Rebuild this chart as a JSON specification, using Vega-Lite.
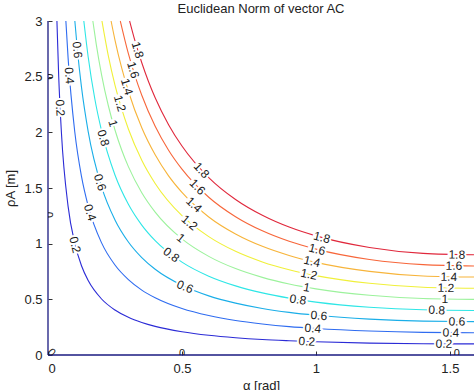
{
  "$schema": "https://vega.github.io/schema/vega-lite/v6.json",
  "width": 426,
  "height": 334,
  "autosize": {"type": "none"},
  "padding": {"left": 48, "top": 21, "right": 0, "bottom": 35},
  "background": "white",
  "config": {
    "view": {"stroke": null},
    "font": "Liberation Sans",
    "axis": {"labelFont": "Liberation Sans", "labelFontSize": 13, "labelColor": "#222", "titleFont": "Liberation Sans", "titleFontSize": 13, "titleFontWeight": "normal", "titleColor": "#222", "grid": false, "domain": false, "tickColor": "#333", "tickSize": -4, "labelPadding": 10}
  },
  "title": {"text": "Euclidean Norm of vector AC", "fontSize": 13, "fontWeight": "normal", "color": "#222", "font": "Liberation Sans", "offset": -1},
  "datasets": {
    "zero": [
      {"a": 0, "r": 0, "seg": "L"}, {"a": 0, "r": 3, "seg": "L"},
      {"a": 0, "r": 0, "seg": "B"}, {"a": 1.59, "r": 0, "seg": "B"}
    ],
    "lines": [
      {"c": "0.2", "a": 0.0333, "r": 3}, {"c": "0.2", "a": 0.04, "r": 2.5}, {"c": "0.2", "a": 0.05, "r": 2.001}, {"c": "0.2", "a": 0.075, "r": 1.335}, {"c": "0.2", "a": 0.1, "r": 1.002}, {"c": "0.2", "a": 0.125, "r": 0.802}, {"c": "0.2", "a": 0.15, "r": 0.669}, {"c": "0.2", "a": 0.2, "r": 0.503}, {"c": "0.2", "a": 0.25, "r": 0.404}, {"c": "0.2", "a": 0.3, "r": 0.338}, {"c": "0.2", "a": 0.35, "r": 0.292}, {"c": "0.2", "a": 0.4, "r": 0.257}, {"c": "0.2", "a": 0.5, "r": 0.209}, {"c": "0.2", "a": 0.6, "r": 0.177}, {"c": "0.2", "a": 0.7, "r": 0.155}, {"c": "0.2", "a": 0.8, "r": 0.139}, {"c": "0.2", "a": 0.9, "r": 0.128}, {"c": "0.2", "a": 1.0, "r": 0.119}, {"c": "0.2", "a": 1.2, "r": 0.107}, {"c": "0.2", "a": 1.4, "r": 0.101}, {"c": "0.2", "a": 1.59, "r": 0.1},
      {"c": "0.4", "a": 0.0667, "r": 3}, {"c": "0.4", "a": 0.075, "r": 2.669}, {"c": "0.4", "a": 0.1, "r": 2.003}, {"c": "0.4", "a": 0.125, "r": 1.604}, {"c": "0.4", "a": 0.15, "r": 1.338}, {"c": "0.4", "a": 0.2, "r": 1.007}, {"c": "0.4", "a": 0.25, "r": 0.808}, {"c": "0.4", "a": 0.3, "r": 0.677}, {"c": "0.4", "a": 0.35, "r": 0.583}, {"c": "0.4", "a": 0.4, "r": 0.514}, {"c": "0.4", "a": 0.5, "r": 0.417}, {"c": "0.4", "a": 0.6, "r": 0.354}, {"c": "0.4", "a": 0.7, "r": 0.31}, {"c": "0.4", "a": 0.8, "r": 0.279}, {"c": "0.4", "a": 0.9, "r": 0.255}, {"c": "0.4", "a": 1.0, "r": 0.238}, {"c": "0.4", "a": 1.2, "r": 0.215}, {"c": "0.4", "a": 1.4, "r": 0.203}, {"c": "0.4", "a": 1.59, "r": 0.2},
      {"c": "0.6", "a": 0.1002, "r": 3}, {"c": "0.6", "a": 0.11, "r": 2.733}, {"c": "0.6", "a": 0.125, "r": 2.406}, {"c": "0.6", "a": 0.15, "r": 2.007}, {"c": "0.6", "a": 0.2, "r": 1.51}, {"c": "0.6", "a": 0.25, "r": 1.213}, {"c": "0.6", "a": 0.3, "r": 1.015}, {"c": "0.6", "a": 0.35, "r": 0.875}, {"c": "0.6", "a": 0.4, "r": 0.77}, {"c": "0.6", "a": 0.5, "r": 0.626}, {"c": "0.6", "a": 0.6, "r": 0.531}, {"c": "0.6", "a": 0.7, "r": 0.466}, {"c": "0.6", "a": 0.8, "r": 0.418}, {"c": "0.6", "a": 0.9, "r": 0.383}, {"c": "0.6", "a": 1.0, "r": 0.357}, {"c": "0.6", "a": 1.2, "r": 0.322}, {"c": "0.6", "a": 1.4, "r": 0.304}, {"c": "0.6", "a": 1.59, "r": 0.3},
      {"c": "0.8", "a": 0.1337, "r": 3}, {"c": "0.8", "a": 0.15, "r": 2.677}, {"c": "0.8", "a": 0.175, "r": 2.297}, {"c": "0.8", "a": 0.2, "r": 2.013}, {"c": "0.8", "a": 0.25, "r": 1.617}, {"c": "0.8", "a": 0.3, "r": 1.354}, {"c": "0.8", "a": 0.35, "r": 1.167}, {"c": "0.8", "a": 0.4, "r": 1.027}, {"c": "0.8", "a": 0.5, "r": 0.834}, {"c": "0.8", "a": 0.6, "r": 0.708}, {"c": "0.8", "a": 0.7, "r": 0.621}, {"c": "0.8", "a": 0.8, "r": 0.558}, {"c": "0.8", "a": 0.9, "r": 0.511}, {"c": "0.8", "a": 1.0, "r": 0.475}, {"c": "0.8", "a": 1.2, "r": 0.429}, {"c": "0.8", "a": 1.4, "r": 0.406}, {"c": "0.8", "a": 1.59, "r": 0.4},
      {"c": "1", "a": 0.1674, "r": 3}, {"c": "1", "a": 0.18, "r": 2.793}, {"c": "1", "a": 0.2, "r": 2.517}, {"c": "1", "a": 0.225, "r": 2.241}, {"c": "1", "a": 0.25, "r": 2.021}, {"c": "1", "a": 0.275, "r": 1.841}, {"c": "1", "a": 0.3, "r": 1.692}, {"c": "1", "a": 0.35, "r": 1.458}, {"c": "1", "a": 0.4, "r": 1.284}, {"c": "1", "a": 0.5, "r": 1.043}, {"c": "1", "a": 0.6, "r": 0.886}, {"c": "1", "a": 0.7, "r": 0.776}, {"c": "1", "a": 0.8, "r": 0.697}, {"c": "1", "a": 0.9, "r": 0.638}, {"c": "1", "a": 1.0, "r": 0.594}, {"c": "1", "a": 1.2, "r": 0.536}, {"c": "1", "a": 1.4, "r": 0.507}, {"c": "1", "a": 1.59, "r": 0.5},
      {"c": "1.2", "a": 0.2014, "r": 3}, {"c": "1.2", "a": 0.225, "r": 2.689}, {"c": "1.2", "a": 0.25, "r": 2.425}, {"c": "1.2", "a": 0.275, "r": 2.21}, {"c": "1.2", "a": 0.3, "r": 2.03}, {"c": "1.2", "a": 0.35, "r": 1.75}, {"c": "1.2", "a": 0.4, "r": 1.541}, {"c": "1.2", "a": 0.5, "r": 1.251}, {"c": "1.2", "a": 0.6, "r": 1.063}, {"c": "1.2", "a": 0.7, "r": 0.931}, {"c": "1.2", "a": 0.8, "r": 0.836}, {"c": "1.2", "a": 0.9, "r": 0.766}, {"c": "1.2", "a": 1.0, "r": 0.713}, {"c": "1.2", "a": 1.2, "r": 0.644}, {"c": "1.2", "a": 1.4, "r": 0.609}, {"c": "1.2", "a": 1.59, "r": 0.6},
      {"c": "1.4", "a": 0.2355, "r": 3}, {"c": "1.4", "a": 0.25, "r": 2.829}, {"c": "1.4", "a": 0.275, "r": 2.578}, {"c": "1.4", "a": 0.3, "r": 2.369}, {"c": "1.4", "a": 0.35, "r": 2.041}, {"c": "1.4", "a": 0.4, "r": 1.798}, {"c": "1.4", "a": 0.45, "r": 1.609}, {"c": "1.4", "a": 0.5, "r": 1.46}, {"c": "1.4", "a": 0.6, "r": 1.24}, {"c": "1.4", "a": 0.7, "r": 1.087}, {"c": "1.4", "a": 0.8, "r": 0.976}, {"c": "1.4", "a": 0.9, "r": 0.894}, {"c": "1.4", "a": 1.0, "r": 0.832}, {"c": "1.4", "a": 1.2, "r": 0.751}, {"c": "1.4", "a": 1.4, "r": 0.71}, {"c": "1.4", "a": 1.59, "r": 0.7},
      {"c": "1.6", "a": 0.2699, "r": 3}, {"c": "1.6", "a": 0.3, "r": 2.707}, {"c": "1.6", "a": 0.325, "r": 2.505}, {"c": "1.6", "a": 0.35, "r": 2.333}, {"c": "1.6", "a": 0.4, "r": 2.054}, {"c": "1.6", "a": 0.45, "r": 1.839}, {"c": "1.6", "a": 0.5, "r": 1.669}, {"c": "1.6", "a": 0.6, "r": 1.417}, {"c": "1.6", "a": 0.7, "r": 1.242}, {"c": "1.6", "a": 0.8, "r": 1.115}, {"c": "1.6", "a": 0.9, "r": 1.021}, {"c": "1.6", "a": 1.0, "r": 0.951}, {"c": "1.6", "a": 1.2, "r": 0.858}, {"c": "1.6", "a": 1.4, "r": 0.812}, {"c": "1.6", "a": 1.59, "r": 0.8},
      {"c": "1.8", "a": 0.3047, "r": 3}, {"c": "1.8", "a": 0.325, "r": 2.819}, {"c": "1.8", "a": 0.35, "r": 2.625}, {"c": "1.8", "a": 0.375, "r": 2.457}, {"c": "1.8", "a": 0.4, "r": 2.311}, {"c": "1.8", "a": 0.45, "r": 2.069}, {"c": "1.8", "a": 0.5, "r": 1.877}, {"c": "1.8", "a": 0.6, "r": 1.594}, {"c": "1.8", "a": 0.7, "r": 1.397}, {"c": "1.8", "a": 0.8, "r": 1.255}, {"c": "1.8", "a": 0.9, "r": 1.149}, {"c": "1.8", "a": 1.0, "r": 1.07}, {"c": "1.8", "a": 1.2, "r": 0.966}, {"c": "1.8", "a": 1.4, "r": 0.913}, {"c": "1.8", "a": 1.59, "r": 0.9}
    ],
    "labels": [
      {"t": "0.2", "a": 0.045, "r": 2.22, "ang": 87},
      {"t": "0.4", "a": 0.0797, "r": 2.51, "ang": 86},
      {"t": "0.6", "a": 0.1097, "r": 2.74, "ang": 84},
      {"t": "0.8", "a": 0.2066, "r": 1.95, "ang": 75},
      {"t": "1", "a": 0.2428, "r": 2.08, "ang": 74},
      {"t": "1.2", "a": 0.2687, "r": 2.26, "ang": 74},
      {"t": "1.4", "a": 0.2947, "r": 2.41, "ang": 73},
      {"t": "1.6", "a": 0.3178, "r": 2.56, "ang": 73},
      {"t": "1.8", "a": 0.3347, "r": 2.74, "ang": 73},
      {"t": "0.6", "a": 0.194, "r": 1.55, "ang": 73},
      {"t": "0.4", "a": 0.157, "r": 1.28, "ang": 73},
      {"t": "0.2", "a": 0.101, "r": 0.99, "ang": 76},
      {"t": "1.8", "a": 0.573, "r": 1.66, "ang": 47},
      {"t": "1.6", "a": 0.558, "r": 1.51, "ang": 45},
      {"t": "1.4", "a": 0.545, "r": 1.35, "ang": 43},
      {"t": "1.2", "a": 0.528, "r": 1.19, "ang": 40},
      {"t": "1", "a": 0.496, "r": 1.05, "ang": 39},
      {"t": "0.8", "a": 0.46, "r": 0.9, "ang": 37},
      {"t": "0.6", "a": 0.511, "r": 0.613, "ang": 23},
      {"t": "1.8", "a": 1.022, "r": 1.055, "ang": 15},
      {"t": "1.6", "a": 1.004, "r": 0.948, "ang": 14},
      {"t": "1.4", "a": 0.985, "r": 0.84, "ang": 13},
      {"t": "1.2", "a": 0.974, "r": 0.7255, "ang": 12},
      {"t": "1", "a": 0.966, "r": 0.6075, "ang": 10},
      {"t": "0.8", "a": 0.933, "r": 0.498, "ang": 9},
      {"t": "0.6", "a": 1.011, "r": 0.354, "ang": 5},
      {"t": "0.4", "a": 0.989, "r": 0.2395, "ang": 4},
      {"t": "0.2", "a": 0.966, "r": 0.1215, "ang": 3},
      {"t": "1.8", "a": 1.526, "r": 0.9009, "ang": 1},
      {"t": "1.6", "a": 1.515, "r": 0.8012, "ang": 1},
      {"t": "1.4", "a": 1.496, "r": 0.7019, "ang": 1},
      {"t": "1.2", "a": 1.485, "r": 0.6022, "ang": 1},
      {"t": "1", "a": 1.481, "r": 0.502, "ang": 1},
      {"t": "0.8", "a": 1.451, "r": 0.4029, "ang": 2},
      {"t": "0.6", "a": 1.526, "r": 0.3003, "ang": 1},
      {"t": "0.4", "a": 1.504, "r": 0.2004, "ang": 1},
      {"t": "0.2", "a": 1.478, "r": 0.1004, "ang": 1}
    ],
    "zerolabels": [
      {"t": "0", "a": 0, "r": 2.5, "ang": 90},
      {"t": "0", "a": 0, "r": 1.26, "ang": 90},
      {"t": "0", "a": 0.5, "r": 0.012, "ang": 0},
      {"t": "0", "a": 1.526, "r": 0.012, "ang": 0},
      {"t": "0", "a": 0.012, "r": 0.02, "ang": 45}
    ]
  },
  "encoding": {
    "x": {"field": "a", "type": "quantitative", "scale": {"domain": [0, 1.59], "nice": false, "zero": false}, "axis": {"title": "α [rad]", "values": [0, 0.5, 1, 1.5], "format": "~g", "titlePadding": 4, "labelPadding": 11}},
    "y": {"field": "r", "type": "quantitative", "scale": {"domain": [0, 3], "nice": false, "zero": false}, "axis": {"title": "ρA [m]", "values": [0, 0.5, 1, 1.5, 2, 2.5, 3], "format": "~g", "titlePadding": 6}}
  },
  "layer": [
    {
      "data": {"name": "lines"},
      "mark": {"type": "line", "strokeWidth": 1.1, "interpolate": "monotone"},
      "encoding": {
        "color": {"field": "c", "type": "nominal", "legend": null, "scale": {"domain": ["0", "0.2", "0.4", "0.6", "0.8", "1", "1.2", "1.4", "1.6", "1.8"], "range": ["#1a1a80", "#2b2bd6", "#2f6cf0", "#1aaee8", "#2ee6e6", "#9cf29c", "#f0f03a", "#f7b43a", "#f7663a", "#e0283c"]}}
      }
    },
    {
      "data": {"name": "zero"},
      "mark": {"type": "line", "strokeWidth": 1.3, "color": "#1a1a80"},
      "encoding": {"detail": {"field": "seg", "type": "nominal"}}
    },
    {
      "data": {"name": "labels"},
      "mark": {"type": "text", "fontSize": 12, "font": "Liberation Sans", "stroke": "white", "strokeWidth": 4, "fill": "white", "align": "center", "baseline": "middle"},
      "encoding": {"text": {"field": "t"}, "angle": {"field": "ang", "type": "quantitative", "scale": null}}
    },
    {
      "data": {"name": "labels"},
      "mark": {"type": "text", "fontSize": 12, "font": "Liberation Sans", "color": "#1a1a1a", "align": "center", "baseline": "middle"},
      "encoding": {"text": {"field": "t"}, "angle": {"field": "ang", "type": "quantitative", "scale": null}}
    },
    {
      "data": {"name": "zerolabels"},
      "mark": {"type": "text", "fontSize": 11, "font": "Liberation Sans", "color": "#1a1a1a", "align": "center", "baseline": "middle", "clip": true},
      "encoding": {"text": {"field": "t"}, "angle": {"field": "ang", "type": "quantitative", "scale": null}}
    }
  ]
}
